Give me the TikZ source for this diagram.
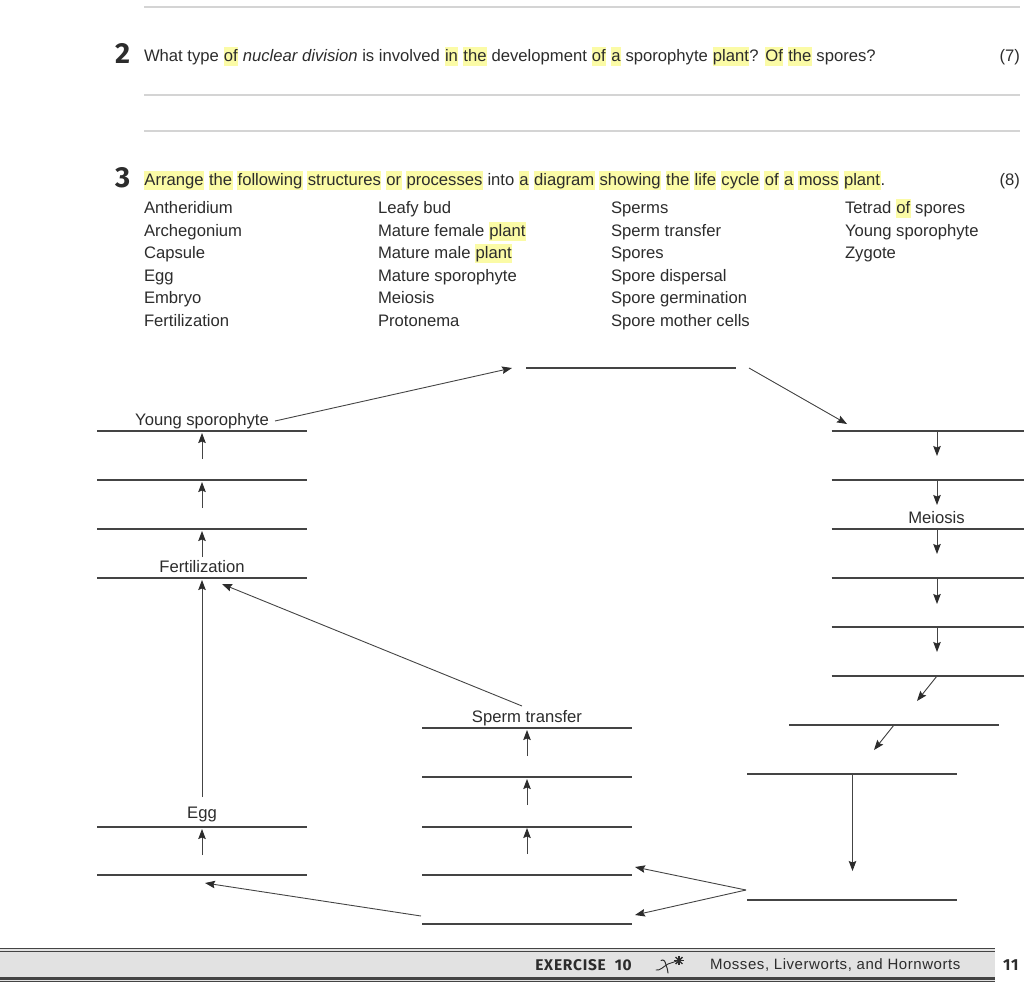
\documentclass[tikz,border=0pt]{standalone}
\usepackage{fontspec}
\usetikzlibrary{arrows.meta,calc}
\setmainfont{Liberation Sans}
\newfontfamily\headfont{Fira Sans}
\newfontfamily\footfont{Fira Sans}[LetterSpace=5]
\newfontfamily\footsans{Liberation Sans}[LetterSpace=3.7]
\definecolor{hlc}{HTML}{FBFBA6}
\definecolor{inkc}{HTML}{2C2C2C}
\definecolor{rulec}{HTML}{D4D4D4}
\definecolor{linec}{HTML}{444444}
\definecolor{barc}{HTML}{E2E2E2}
\newcommand{\hlw}[1]{{\setlength{\fboxsep}{0pt}\colorbox{hlc}{\rule[-4.5pt]{0pt}{19pt}\kern0.4pt#1\kern0.4pt}}}
\tikzset{
  txt/.style={anchor=base west,inner sep=0pt,outer sep=0pt,text=inkc,font=\fontsize{16.65}{19}\selectfont},
  lbl/.style={anchor=base,inner sep=0pt,outer sep=0pt,text=inkc,font=\fontsize{16.65}{19}\selectfont},
  num/.style={anchor=base west,inner sep=0pt,outer sep=0pt,text=inkc,font=\headfont\bfseries\fontsize{29}{30}\selectfont},
  pts/.style={anchor=base east,inner sep=0pt,outer sep=0pt,text=inkc,font=\fontsize{16.65}{19}\selectfont},
  blank/.style={draw=linec,line width=1.6pt},
  faint/.style={draw=rulec,line width=1.5pt},
  arr/.style={draw=linec,line width=0.9pt,-{Stealth[length=10pt,width=7.5pt,inset=1.5pt,color=inkc]}},
}
\newcommand{\blankline}[3]{\coordinate (#1) at (#2,#3); \draw[blank] ($(#1)+(-105,0)$) -- ($(#1)+(105,0)$);}
\begin{document}
\begin{tikzpicture}[x=1pt,y=-1pt]
\useasboundingbox (0,0) rectangle (1024,996);
% faint rules
\draw[faint] (144,7) -- (1020,7);
\draw[faint] (144,95) -- (1020,95);
\draw[faint] (144,131) -- (1020,131);
% question 2
\node[num] (n2) at (115,63.5) {2};
\node[txt] (q2) at (144,61) {What type \hlw{of} \textit{nuclear division} is involved \hlw{in} \hlw{the} development \hlw{of} \hlw{a} sporophyte \hlw{plant}? \hlw{Of} \hlw{the} spores?};
\node[pts] (p7) at (1020,61) {(7)};
% question 3
\node[num] (n3) at (115,187.5) {3};
\node[txt] (q3) at (144,185) {\hlw{Arrange} \hlw{the} \hlw{following} \hlw{structures} \hlw{or} \hlw{processes} into \hlw{a} \hlw{diagram} \hlw{showing} \hlw{the} \hlw{life} \hlw{cycle} \hlw{of} \hlw{a} \hlw{moss} \hlw{plant}.};
\node[pts] (p8) at (1020,185) {(8)};
% word list
\node[txt] (a1) at (144,213) {Antheridium};
\node[txt] (a2) at (144,236) {Archegonium};
\node[txt] (a3) at (144,258.5) {Capsule};
\node[txt] (a4) at (144,281) {Egg};
\node[txt] (a5) at (144,303.5) {Embryo};
\node[txt] (a6) at (144,326) {Fertilization};
\node[txt] (b1) at (378,213) {Leafy bud};
\node[txt] (b2) at (378,236) {Mature female \hlw{plant}};
\node[txt] (b3) at (378,258.5) {Mature male \hlw{plant}};
\node[txt] (b4) at (378,281) {Mature sporophyte};
\node[txt] (b5) at (378,303.5) {Meiosis};
\node[txt] (b6) at (378,326) {Protonema};
\node[txt] (c1) at (611,213) {Sperms};
\node[txt] (c2) at (611,236) {Sperm transfer};
\node[txt] (c3) at (611,258.5) {Spores};
\node[txt] (c4) at (611,281) {Spore dispersal};
\node[txt] (c5) at (611,303.5) {Spore germination};
\node[txt] (c6) at (611,326) {Spore mother cells};
\node[txt] (d1) at (845,213) {Tetrad \hlw{of} spores};
\node[txt] (d2) at (845,236) {Young sporophyte};
\node[txt] (d3) at (845,258.5) {Zygote};
% blanks left
\blankline{L1}{202}{431}
\blankline{L2}{202}{480}
\blankline{L3}{202}{529}
\blankline{L4}{202}{578}
\blankline{L5}{202}{827}
\blankline{L6}{202}{875}
% blanks middle
\blankline{M0}{631}{368}
\blankline{M1}{527}{728}
\blankline{M2}{527}{777}
\blankline{M3}{527}{827}
\blankline{M4}{527}{875}
\blankline{M5}{527}{924}
% blanks right
\blankline{R1}{936.5}{431}
\blankline{R2}{936.5}{480}
\blankline{R3}{936.5}{529}
\blankline{R4}{936.5}{578}
\blankline{R5}{936.5}{627}
\blankline{R6}{936.5}{676}
\blankline{R7}{894}{725}
\blankline{R8}{852}{774}
\blankline{R9}{852}{900}
% labels
\node[lbl] (tYS) at (202,425) {Young sporophyte};
\node[lbl] (tFe) at (202,572) {Fertilization};
\node[lbl] (tEg) at (202,818) {Egg};
\node[lbl] (tST) at (527,722) {Sperm transfer};
\node[lbl] (tMe) at (936.5,523) {Meiosis};
% vertical arrows
\foreach \a/\b/\xx/\ya/\yb in {
 L2/L1/202/459/433, L3/L2/202/508/482, L4/L3/202/557/531, L5/L6/202/855/829,
 M2/M1/527/756/730, M3/M2/527/805/779, M4/M3/527/854/828,
 R1/R2/937/432/456, R2/R3/937/481/505, R3/R4/937/530/554, R4/R5/937/579/604, R5/R6/937/628/652}{
 \coordinate (s\a\b) at (\xx,\ya); \coordinate (e\a\b) at (\xx,\yb);
 \draw[arr] (s\a\b) -- (e\a\b);
}
\coordinate (x1) at (202,797); \coordinate (x2) at (202,580);
\draw[arr] (x1) -- (x2);
\coordinate (x3) at (522,706); \coordinate (x4) at (222,584);
\draw[arr] (x3) -- (x4);
\coordinate (x5) at (275,421); \coordinate (x6) at (512,368);
\draw[arr] (x5) -- (x6);
\coordinate (x7) at (749,368); \coordinate (x8) at (847,424);
\draw[arr] (x7) -- (x8);
\coordinate (x9) at (937,676); \coordinate (x10) at (917,701);
\draw[arr] (x9) -- (x10);
\coordinate (x11) at (894,725); \coordinate (x12) at (874,750);
\draw[arr] (x11) -- (x12);
\coordinate (x13) at (852.5,774); \coordinate (x14) at (852.5,871);
\draw[arr] (x13) -- (x14);
\coordinate (x15) at (746,890); \coordinate (x16) at (635,867);
\coordinate (x17) at (635,915);
\draw[arr] (x15) -- (x16);
\draw[arr] (x15) -- (x17);
\coordinate (x18) at (421,916); \coordinate (x19) at (205,883);
\draw[arr] (x18) -- (x19);
% footer
\fill[barc] (0,948) rectangle (995,981);
\fill[linec] (0,947.5) rectangle (995,949);
\fill[linec] (0,950.5) rectangle (995,951.5);
\fill[linec] (0,977) rectangle (995,979.5);
\fill[linec] (0,980.5) rectangle (995,981.5);
\node[anchor=base east,inner sep=0pt,text=inkc,font=\footfont\bfseries\fontsize{15.5}{16}\selectfont] (ft1) at (632,970) {EXERCISE\ \ 10};
% ornament
\draw[inkc,line width=0.9pt,line cap=round] (656,970) .. controls (660,971) and (664,966) .. (668,964)
  .. controls (671,963) and (674,962) .. (677,961);
\draw[inkc,line width=1pt,line cap=round] (661,960.5) .. controls (664,959) and (665,961) .. (666,965)
  .. controls (667,968) and (668,970) .. (668,973);
\foreach \ang in {0,45,...,315}{
  \draw[inkc,line width=1.4pt] (679,960.5) -- ++(\ang:4.8);
}
\node[txt,font=\footsans\fontsize{15}{16}\selectfont] (ft2) at (710,969.5) {Mosses, Liverworts, and Hornworts};
\node[anchor=base west,inner sep=0pt,text=inkc,font=\footfont\bfseries\fontsize{16}{16}\selectfont] (ft3) at (1003,970) {11};
\end{tikzpicture}
\end{document}
